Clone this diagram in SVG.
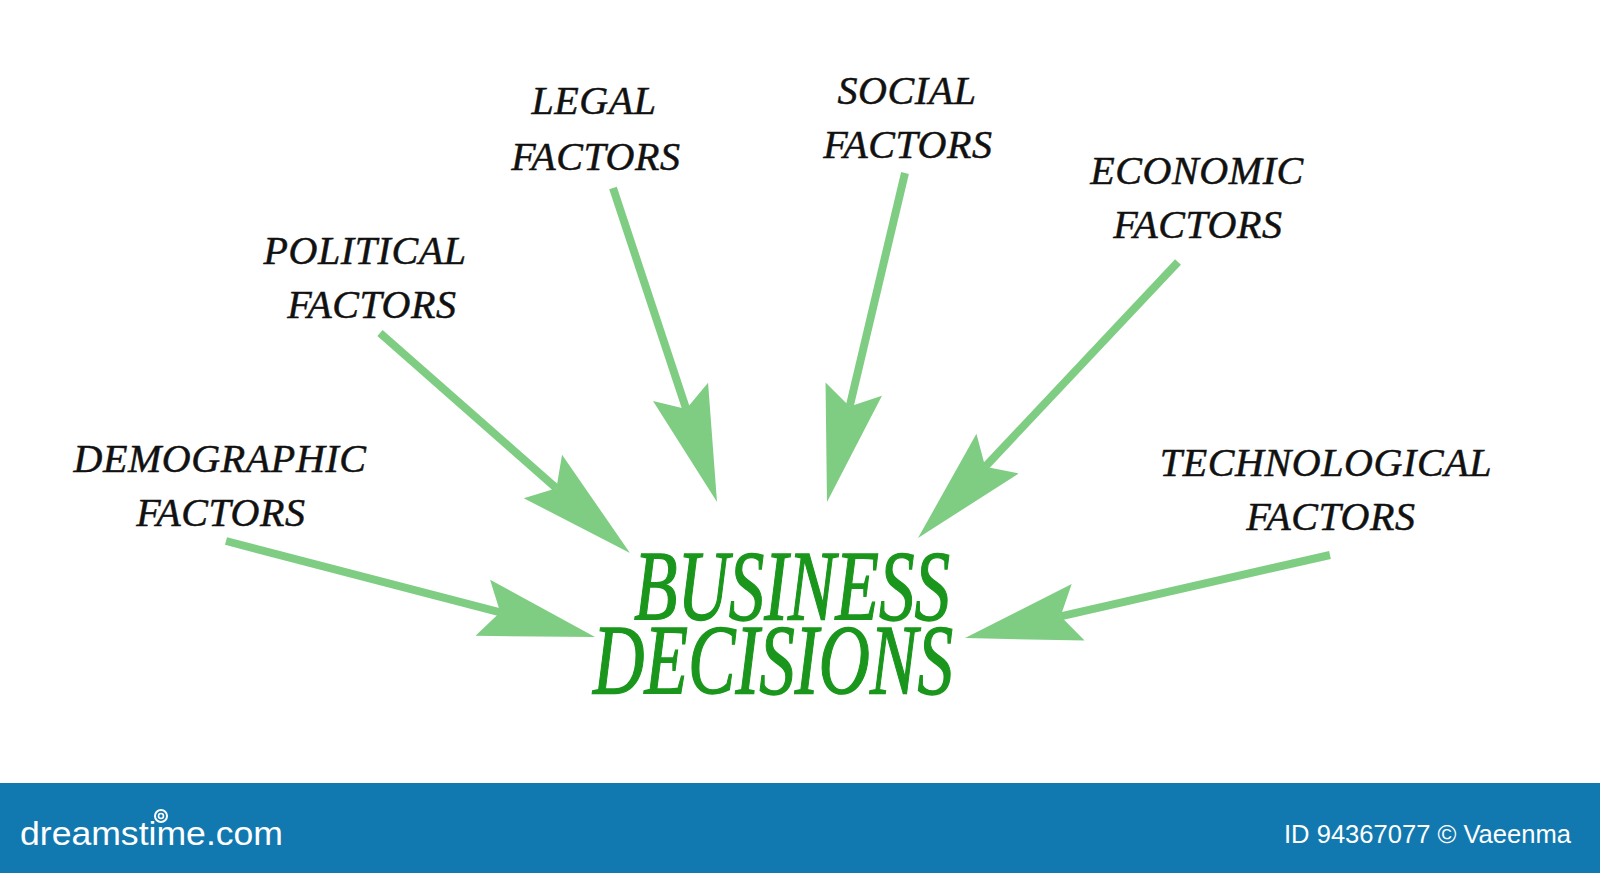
<svg xmlns="http://www.w3.org/2000/svg" width="1600" height="873" viewBox="0 0 1600 873">
  <style>
    .lbl { font-family: "Liberation Serif", "Times New Roman", serif; font-style: italic; font-size: 40px; fill: #111111; stroke: #111111; stroke-width: 0.5; text-anchor: middle; letter-spacing: 0.6px; }
    .title { font-family: "Liberation Serif", "Times New Roman", serif; font-style: italic; font-size: 100px; fill: #1a961c; stroke: #1a961c; stroke-width: 1.4; }
    .shaft { fill: none; stroke: #7fcd83; stroke-width: 8; stroke-linecap: butt; }
    .foot { font-family: "Liberation Sans", Arial, sans-serif; fill: #ffffff; }
  </style>
  <defs>
    <marker id="head" markerUnits="userSpaceOnUse" markerWidth="120" markerHeight="60" refX="18" refY="29" orient="auto" overflow="visible">
      <path d="M116,29 L0,0 L18,29 L0,58 Z" fill="#7fcd83"/>
    </marker>
  </defs>
  <rect x="0" y="0" width="1600" height="873" fill="#ffffff"/>

  <g id="connectors">
    <path class="shaft" d="M226,541 L500.2,612.3" marker-end="url(#head)"/>
    <path class="shaft" d="M380,333 L556.4,488.3" marker-end="url(#head)"/>
    <path class="shaft" d="M613,188 L686.2,409" marker-end="url(#head)"/>
    <path class="shaft" d="M905,173 L849.6,406.6" marker-end="url(#head)"/>
    <path class="shaft" d="M1178,262 L985.2,466.7" marker-end="url(#head)"/>
    <path class="shaft" d="M1330,555 L1060.6,616.3" marker-end="url(#head)"/>
  </g>

  <g id="node-demographic">
    <text class="lbl" x="220" y="472">DEMOGRAPHIC</text>
    <text class="lbl" x="221" y="526">FACTORS</text>
  </g>
  <g id="node-political">
    <text class="lbl" x="365" y="264">POLITICAL</text>
    <text class="lbl" x="372" y="318">FACTORS</text>
  </g>
  <g id="node-legal">
    <text class="lbl" x="594" y="114">LEGAL</text>
    <text class="lbl" x="596" y="170">FACTORS</text>
  </g>
  <g id="node-social">
    <text class="lbl" x="907" y="104">SOCIAL</text>
    <text class="lbl" x="908" y="158">FACTORS</text>
  </g>
  <g id="node-economic">
    <text class="lbl" x="1197" y="184">ECONOMIC</text>
    <text class="lbl" x="1198" y="238">FACTORS</text>
  </g>
  <g id="node-technological">
    <text class="lbl" x="1326" y="476">TECHNOLOGICAL</text>
    <text class="lbl" x="1331" y="530">FACTORS</text>
  </g>
  <g id="node-business-decisions">
    <text class="title" x="634" y="619" textLength="316" lengthAdjust="spacingAndGlyphs">BUSINESS</text>
    <text class="title" x="593" y="693" textLength="360" lengthAdjust="spacingAndGlyphs">DECISIONS</text>
  </g>

  <g id="footer">
    <rect x="0" y="783" width="1600" height="90" fill="#1279b0"/>
    <text class="foot" x="20" y="845" font-family="Lato, 'Open Sans', sans-serif" font-size="34" textLength="263" lengthAdjust="spacingAndGlyphs">dreamstime.com</text>
    <circle cx="161" cy="816" r="6" fill="none" stroke="#ffffff" stroke-width="2"/>
    <circle cx="161" cy="816" r="2.5" fill="none" stroke="#ffffff" stroke-width="1.6"/>
    <text class="foot" x="1571" y="843" font-size="25" text-anchor="end" textLength="287" lengthAdjust="spacingAndGlyphs">ID 94367077 © Vaeenma</text>
  </g>
</svg>
